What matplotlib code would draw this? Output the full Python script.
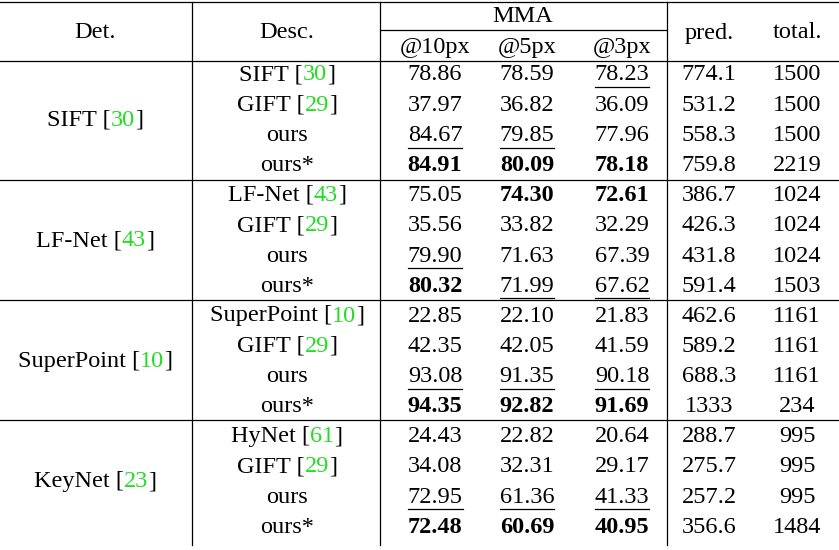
import matplotlib
matplotlib.use("Agg")
import matplotlib.pyplot as plt
from matplotlib.font_manager import FontProperties

dets = [("SIFT ", "30"), ("LF-Net ", "43"), ("SuperPoint ", "10"), ("KeyNet ", "23")]
descs = [[("SIFT ", "30"), ("GIFT ", "29"), ("ours", ""), ("ours*", "")],
         [("LF-Net ", "43"), ("GIFT ", "29"), ("ours", ""), ("ours*", "")],
         [("SuperPoint ", "10"), ("GIFT ", "29"), ("ours", ""), ("ours*", "")],
         [("HyNet ", "61"), ("GIFT ", "29"), ("ours", ""), ("ours*", "")]]
mma10 = ["78.86", "37.97", "84.67", "84.91", "75.05", "35.56", "79.90", "80.32",
         "22.85", "42.35", "93.08", "94.35", "24.43", "34.08", "72.95", "72.48"]
mma5 = ["78.59", "36.82", "79.85", "80.09", "74.30", "33.82", "71.63", "71.99",
        "22.10", "42.05", "91.35", "92.82", "22.82", "32.31", "61.36", "60.69"]
mma3 = ["78.23", "36.09", "77.96", "78.18", "72.61", "32.29", "67.39", "67.62",
        "21.83", "41.59", "90.18", "91.69", "20.64", "29.17", "41.33", "40.95"]
pred = ["774.1", "531.2", "558.3", "759.8", "386.7", "426.3", "431.8", "591.4",
        "462.6", "589.2", "688.3", "1333", "288.7", "275.7", "257.2", "356.6"]
total = ["1500", "1500", "1500", "2219", "1024", "1024", "1024", "1503",
         "1161", "1161", "1161", "234", "995", "995", "995", "1484"]
bold_cells = {(3,0),(3,1),(3,2),(4,1),(4,2),(7,0),(11,0),(11,1),(11,2),(15,0),(15,1),(15,2)}
under_cells = {(0,2),(2,0),(2,1),(6,0),(7,1),(7,2),(10,0),(10,1),(10,2),(14,0),(14,1),(14,2)}

W, H = 839, 550
fig = plt.figure(figsize=(W/100, H/100), dpi=100)
ax = fig.add_axes([0, 0, 1, 1])
ax.set_xlim(0, W); ax.set_ylim(H, 0); ax.axis("off")
FONT = "Liberation Serif"; FS = 17.5
GREEN = "#22dd22"
r = fig.canvas.get_renderer()

def width(s, weight="normal"):
    fp = FontProperties(family=FONT, size=FS, weight=weight)
    w, h, d = r.get_text_width_height_descent(s, fp, ismath=False)
    return w

def put(x, y, parts, weight="normal", underline=False):
    ws = [width(p, weight) for p, c in parts]
    tot = sum(ws)
    x0 = x - tot/2
    for (p, c), w in zip(parts, ws):
        ax.text(x0, y, p, fontsize=FS, family=FONT, weight=weight, color=c,
                ha="left", va="center")
        x0 += w
    if underline:
        ax.plot([x - tot/2, x + tot/2], [y + 12, y + 12], color="black", lw=0.9)

def cite(name, num):
    if not num:
        return [(name, "black")]
    return [(name + "[", "black"), (num, GREEN), ("]", "black")]

cx = [95, 287, 435, 527, 622, 709, 797]
DY = 2
put(cx[0], 31 + DY, [("Det.", "black")])
put(cx[1], 31 + DY, [("Desc.", "black")])
put(523, 16, [("MMA", "black")])
put(cx[2], 45 + DY, [("@10px", "black")])
put(cx[3], 45 + DY, [("@5px", "black")])
put(cx[4], 45 + DY, [("@3px", "black")])
put(cx[5], 31 + DY, [("pred.", "black")])
put(cx[6], 31 + DY, [("total.", "black")])

row_y = []
for g in range(4):
    for k in range(4):
        row_y.append(73 + DY + g*120.5 + k*30.3)
for g in range(4):
    put(cx[0], (row_y[g*4+1] + row_y[g*4+2])/2, cite(*dets[g]))
    for k in range(4):
        i = g*4 + k
        y = row_y[i]
        put(cx[1], y, cite(*descs[g][k]))
        for c, arr in enumerate([mma10, mma5, mma3]):
            put(cx[2+c], y, [(arr[i], "black")],
                weight="bold" if (i, c) in bold_cells else "normal",
                underline=(i, c) in under_cells)
        put(cx[5], y, [(pred[i], "black")])
        put(cx[6], y, [(total[i], "black")])

lw = 0.9
ax.plot([0, W], [2, 2], color="black", lw=lw)
ax.plot([380, 667], [30, 30], color="black", lw=lw)
for y in [61, 180, 300, 420]:
    ax.plot([0, W], [y, y], color="black", lw=lw)
for x in [192, 380, 667]:
    ax.plot([x, x], [2, 545], color="black", lw=lw)

fig.savefig("out.png", dpi=100)
